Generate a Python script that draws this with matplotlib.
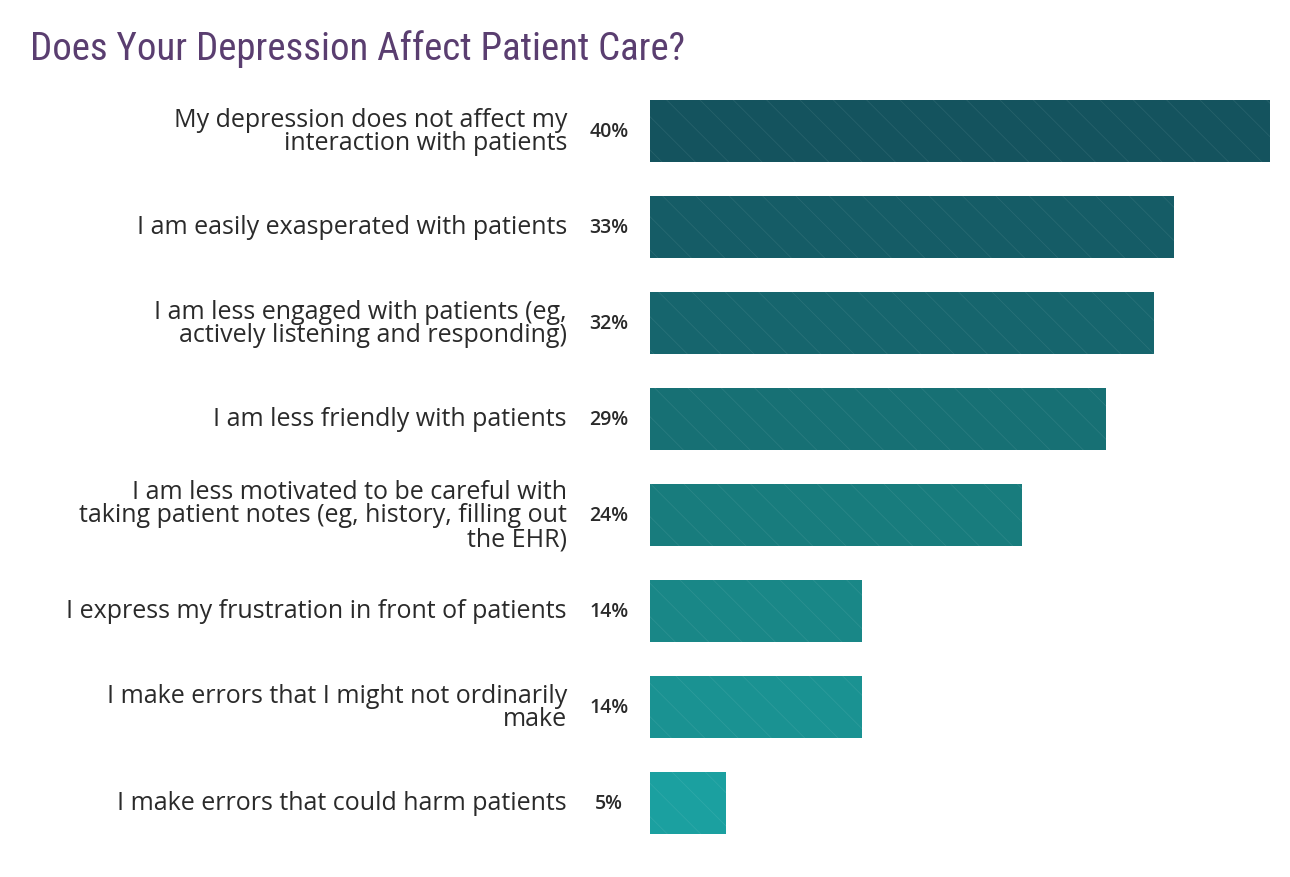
import matplotlib
matplotlib.use("Agg")
import matplotlib.pyplot as plt

categories = [
    "My depression does not affect my\ninteraction with patients",
    "I am easily exasperated with patients",
    "I am less engaged with patients (eg,\nactively listening and responding)",
    "I am less friendly with patients",
    "I am less motivated to be careful with\ntaking patient notes (eg, history, filling out\nthe EHR)",
    "I express my frustration in front of patients",
    "I make errors that I might not ordinarily\nmake",
    "I make errors that could harm patients",
]
values = [40.0, 33.8, 32.5, 29.4, 24.0, 13.7, 13.7, 4.9]
labels = [40, 33, 32, 29, 24, 14, 14, 5]
colors = ["#14535e", "#155c66", "#16656d", "#177074", "#187c7d",
          "#198787", "#1a9292", "#1ba0a0"]

title = "Does Your Depression Affect Patient Care?"

W, H = 1290, 878
fig = plt.figure(figsize=(W / 100, H / 100), dpi=100)
fig.patch.set_facecolor("white")

ax = fig.add_axes([650 / W, (H - 852) / H, 620 / W, 768 / H])
ypos = list(range(len(values)))
ax.barh(ypos, values, height=0.645, color=colors, edgecolor="none", linewidth=0)
plt.rcParams["hatch.linewidth"] = 0.5
ax.barh(ypos, values, height=0.645, fill=False, hatch="\\",
        edgecolor=(1, 1, 1, 0.09), linewidth=0)
ax.set_xlim(0, 40)
ax.set_ylim(7.5, -0.5)
ax.axis("off")

lab_family = ["Open Sans", "DejaVu Sans"]
for i, (cat, lab) in enumerate(zip(categories, labels)):
    ax.text(-0.134, i, cat, transform=ax.get_yaxis_transform(),
            ha="right", va="center", fontsize=18, color="#2a2a2a",
            family=lab_family, linespacing=0.93)
    ax.text(-0.066, i, f"{lab}%", transform=ax.get_yaxis_transform(),
            ha="center", va="center", fontsize=14, fontweight="semibold",
            color="#2a2a2a", family=lab_family)

fig.text(30 / W, 1 - 60 / H, title, ha="left", va="baseline",
         fontsize=28, color="#5a3e70",
         family=["Roboto Condensed", "Roboto", "DejaVu Sans"],
         fontstretch="condensed")

fig.savefig("out.png", dpi=100, facecolor="white")
